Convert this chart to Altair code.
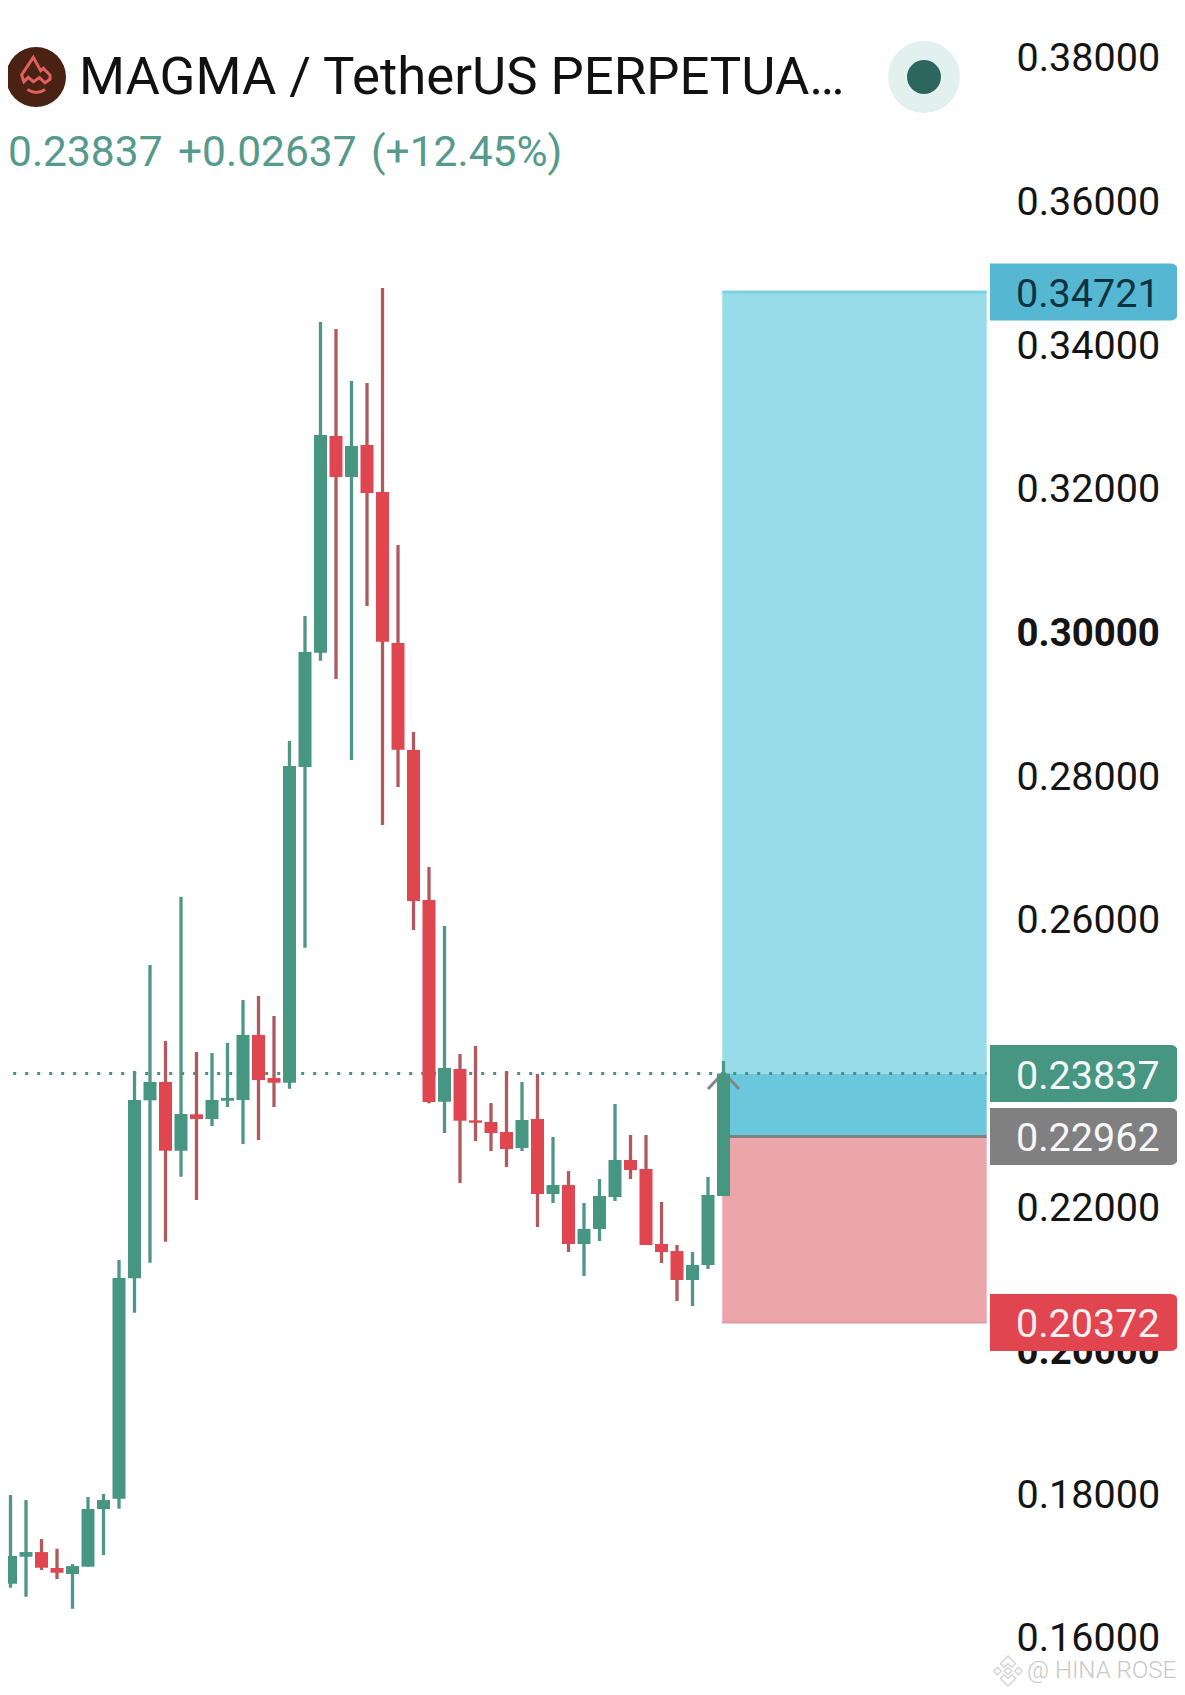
import altair as alt
import pandas as pd

# ---- values -----------------------------------------------------------
candle_idx = list(range(1, 48))
opens = [.16734,.17110,.17175,.16953,.16869,.16971,.17774,.17917,.20986,.23465,
         .23720,.22763,.23270,.23204,.23459,.23469,.24374,.23775,.23710,.28106,
         .29697,.32715,.32144,.32589,.31935,.29832,.28342,.26254,.23445,.23901,
         .23186,.23163,.23023,.22801,.23204,.22160,.22285,.21464,.21673,.22118,
         .22634,.22508,.21464,.21366,.20963,.21172,.22132]
closes = [.17120,.17175,.16957,.16887,.16980,.17774,.17899,.20991,.23469,.23720,
          .22763,.23274,.23204,.23469,.23497,.24374,.23747,.23710,.28120,.29707,
          .32729,.32144,.32575,.31921,.29850,.28347,.26240,.23441,.23915,.23181,
          .23153,.23009,.22787,.23191,.22160,.22285,.21464,.21673,.22132,.22634,
          .22494,.21450,.21353,.20963,.21172,.22146,.23837]
highs = [.17969,.17899,.17356,.17221,.17008,.17941,.17983,.21241,.23873,.25349,
         .24290,.26300,.24137,.24123,.24263,.24861,.24917,.24639,.28468,.30208,
         .34302,.34204,.33480,.33453,.34775,.31197,.28593,.26713,.25892,.24109,
         .24221,.23427,.23873,.23720,.23831,.22954,.22480,.22035,.22369,.23413,
         .22982,.22982,.22049,.21450,.21353,.22397,.24012]
lows = [.16678,.16553,.16925,.16799,.16386,.16971,.17134,.17778,.20507,.21204,
        .21496,.22401,.22077,.23107,.23372,.22856,.22912,.23372,.23626,.25590,
        .29586,.29331,.28203,.30347,.27298,.27827,.25836,.23423,.23009,.22313,
        .22898,.22759,.22536,.22759,.21701,.22035,.21353,.21018,.21506,.22063,
        .22369,.21450,.21199,.20670,.20601,.21116,.22132]

tick_prices = [0.38, 0.36, 0.34, 0.32, 0.30, 0.28, 0.26, 0.22, 0.20, 0.18, 0.16]

target_price = 0.34721
last_price = 0.23837
entry_price = 0.22962
stop_price = 0.20372
box_start = 46.92
box_end = 63.98

tag_prices = [target_price, last_price, entry_price, stop_price]
tag_names = ["target", "last", "entry", "stop"]
tag_labels = ["0.34721", "0.23837", "0.22962", "0.20372"]
tag_fill = ["#55b7d1", "#479682", "#808080", "#e04550"]
tag_text = ["#0d3340", "#f3f8f6", "#f7f7f7", "#fbeff0"]
tag_start, tag_end, label_at = 64.19, 76.32, 65.87

chevron_idx = [46.0, 47.0, 48.0]
chevron_price = [0.23622, 0.23852, 0.23622]

title_text = "MAGMA / TetherUS PERPETUA\u2026"
change_parts = ["0.23837", "+0.02637", "(+12.45%)"]
watermark = "@ HINA ROSE"

FLAME = ("M-.15-.98L-.8 0L-.67.37L-.43.13L-.15.37L.19.15L.5.43L.78.24L.78 0L.41-.37L.26-.24Z"
         "M-.48.8Q0 1.15.5.8")
BINANCE = ("M0-1L.5-.5L.25-.25L0-.5L-.25-.25L-.5-.5Z"
           "M-.7-.25L-.45 0L-.7.25L-.95 0Z"
           "M.7-.25L.95 0L.7.25L.45 0Z"
           "M0-.25L.25 0L0 .25L-.25 0Z"
           "M0 1L.5.5L.25.25L0 .5L-.25.25L-.5.5Z")

# ---- scales ------------------------------------------------------------
FONT = "Roboto"
W, H = 1169, 1679
xs = alt.Scale(domain=[0.8387, 0.8387 + W / 15.5], nice=False, zero=False, padding=0)
ys = alt.Scale(domain=[0.38674 - H / 7182, 0.38674], nice=False, zero=False)

candles = pd.DataFrame({"i": candle_idx, "open": opens, "close": closes,
                        "high": highs, "low": lows})
candles["dir"] = ["up" if c >= o else "down" for o, c in zip(opens, closes)]
candles["top"] = candles[["open", "close"]].max(axis=1)
candles["bot"] = candles[["open", "close"]].min(axis=1)

IS_BOLD = "abs(datum.value-0.3)<1e-6 || abs(datum.value-0.2)<1e-6"
price_axis = alt.Axis(orient="right", offset=1008 - W, title=None, values=tick_prices,
                      labelExpr="format(datum.value, '.5f')", labelFont=FONT,
                      labelFontSize=alt.expr(f"{IS_BOLD} ? 38.4 : 39.5"),
                      labelColor="#141414", labelAlign="left", labelBaseline="middle",
                      labelPadding=0, labelOffset=2.5, ticks=False, domain=False, grid=False,
                      labelOverlap=False, labelFlush=False, labelBound=False,
                      labelFontWeight=alt.expr(f"{IS_BOLD} ? 'bold' : 'normal'"))


def X(f):
    return alt.X(f, type="quantitative", scale=xs, axis=None)


def Y(f):
    return alt.Y(f, type="quantitative", scale=ys, axis=None)


def box(lo, hi, color):
    d = pd.DataFrame({"a": [box_start], "b": [box_end], "lo": [lo], "hi": [hi]})
    return alt.Chart(d).mark_rect(color=color, opacity=1).encode(
        x=X("a"), x2="b", y=Y("lo"), y2="hi")


def level(price, color, w):
    d = pd.DataFrame({"a": [box_start], "b": [box_end], "p": [price]})
    return alt.Chart(d).mark_rule(color=color, strokeWidth=w).encode(x=X("a"), x2="b", y=Y("p"))


def note(text, px, py, size, color, align="left", weight="normal"):
    return alt.Chart(pd.DataFrame({"t": [text]})).mark_text(
        font=FONT, fontSize=size, color=color, align=align, baseline="middle", fontWeight=weight
    ).encode(x=alt.value(px - 8), y=alt.value(py - 8), text="t:N")


def dot(px, py, r, color):
    return alt.Chart(pd.DataFrame({"k": [1]})).mark_circle(
        color=color, opacity=1, size=4 * r * r
    ).encode(x=alt.value(px - 8), y=alt.value(py - 8))


def glyph(path, px, py, span, stroke, w, fill=None):
    kw = {"filled": False} if fill is None else {"fill": fill}
    return alt.Chart(pd.DataFrame({"k": [1]})).mark_point(
        shape=path, size=span * span, stroke=stroke, strokeWidth=w, opacity=1, **kw
    ).encode(x=alt.value(px - 8), y=alt.value(py - 8))


axis_layer = alt.Chart(pd.DataFrame({"p": tick_prices})).mark_point(opacity=0).encode(
    y=alt.Y("p:Q", scale=ys, axis=price_axis))

chev = alt.Chart(pd.DataFrame({"i": chevron_idx, "p": chevron_price})).mark_line(
    color="#7d8a87", strokeWidth=3).encode(x=X("i"), y=Y("p"), order="i:Q")

wick_color = alt.Color("dir:N", legend=None,
                       scale=alt.Scale(domain=["up", "down"], range=["#4f9588", "#b0595f"]))
body_color = alt.Color("dir:N", legend=None,
                       scale=alt.Scale(domain=["up", "down"], range=["#479682", "#e04650"]))
wicks = alt.Chart(candles).mark_rule(strokeWidth=3.3).encode(
    x=X("i"), y=Y("low"), y2="high", color=wick_color)
bodies = alt.Chart(candles).mark_bar(size=13, opacity=1).encode(
    x=X("i"), y=Y("bot"), y2="top", color=body_color)

last_line = alt.Chart(pd.DataFrame({"a": [0.8387], "b": [box_end], "p": [last_price]})).mark_rule(
    color="#4a8f85", strokeWidth=3, strokeDash=[3, 9], strokeDashOffset=6.8
).encode(x=X("a"), x2="b", y=Y("p"))

tags = pd.DataFrame({"name": tag_names, "p": tag_prices, "label": tag_labels,
                     "a": tag_start, "b": tag_end, "t": label_at})
tag_rects = alt.Chart(tags).mark_rect(
    height=57, cornerRadiusTopRight=7, cornerRadiusBottomRight=7, opacity=1
).encode(x=X("a"), x2="b", y=Y("p"),
         color=alt.Color("name:N", legend=None, scale=alt.Scale(domain=tag_names, range=tag_fill)))
tag_texts = alt.Chart(tags).mark_text(font=FONT, fontSize=39.5, align="left", baseline="middle", dy=3).encode(
    x=X("t"), y=Y("p"), text="label:N",
    color=alt.Color("label:N", legend=None, scale=alt.Scale(domain=tag_labels, range=tag_text)))

chart = alt.layer(
    axis_layer,
    box(last_price, target_price, "#99dce9"),
    box(entry_price, last_price, "#6bc7dc"),
    box(stop_price, entry_price, "#eca6aa"),
    level(target_price, "#7fd0e2", 3),
    level(stop_price, "#e39aa3", 2),
    level(entry_price, "#808080", 3),
    chev,
    last_line,
    wicks,
    bodies,
    tag_rects,
    tag_texts,
    dot(36, 77, 30, "#4a2213"),
    glyph(FLAME, 36, 75, 36, "#e0605f", 3),
    note(title_text, 79, 78, 52.7, "#111111"),
    dot(924, 77, 36, "#e2f1ee"),
    dot(924, 77, 17, "#2c665c"),
    note(change_parts[0], 8, 153, 42.5, "#559a8c"),
    note(change_parts[1], 178, 153, 42.5, "#559a8c"),
    note(change_parts[2], 371, 153, 42.5, "#559a8c"),
    glyph(BINANCE, 1008, 1671, 30, "#d6d6d6", 1.5),
    note(watermark, 1027, 1671, 24.1, "#c8c8c8", weight=300),
).resolve_scale(color="independent").resolve_axis(y="independent").properties(
    width=W, height=H,
    padding=0,
    autosize=alt.AutoSizeParams(type="none"),
    background="#ffffff",
).configure_view(stroke=None)

chart.save("out.html", embed_options={"renderer": "svg", "actions": False})
